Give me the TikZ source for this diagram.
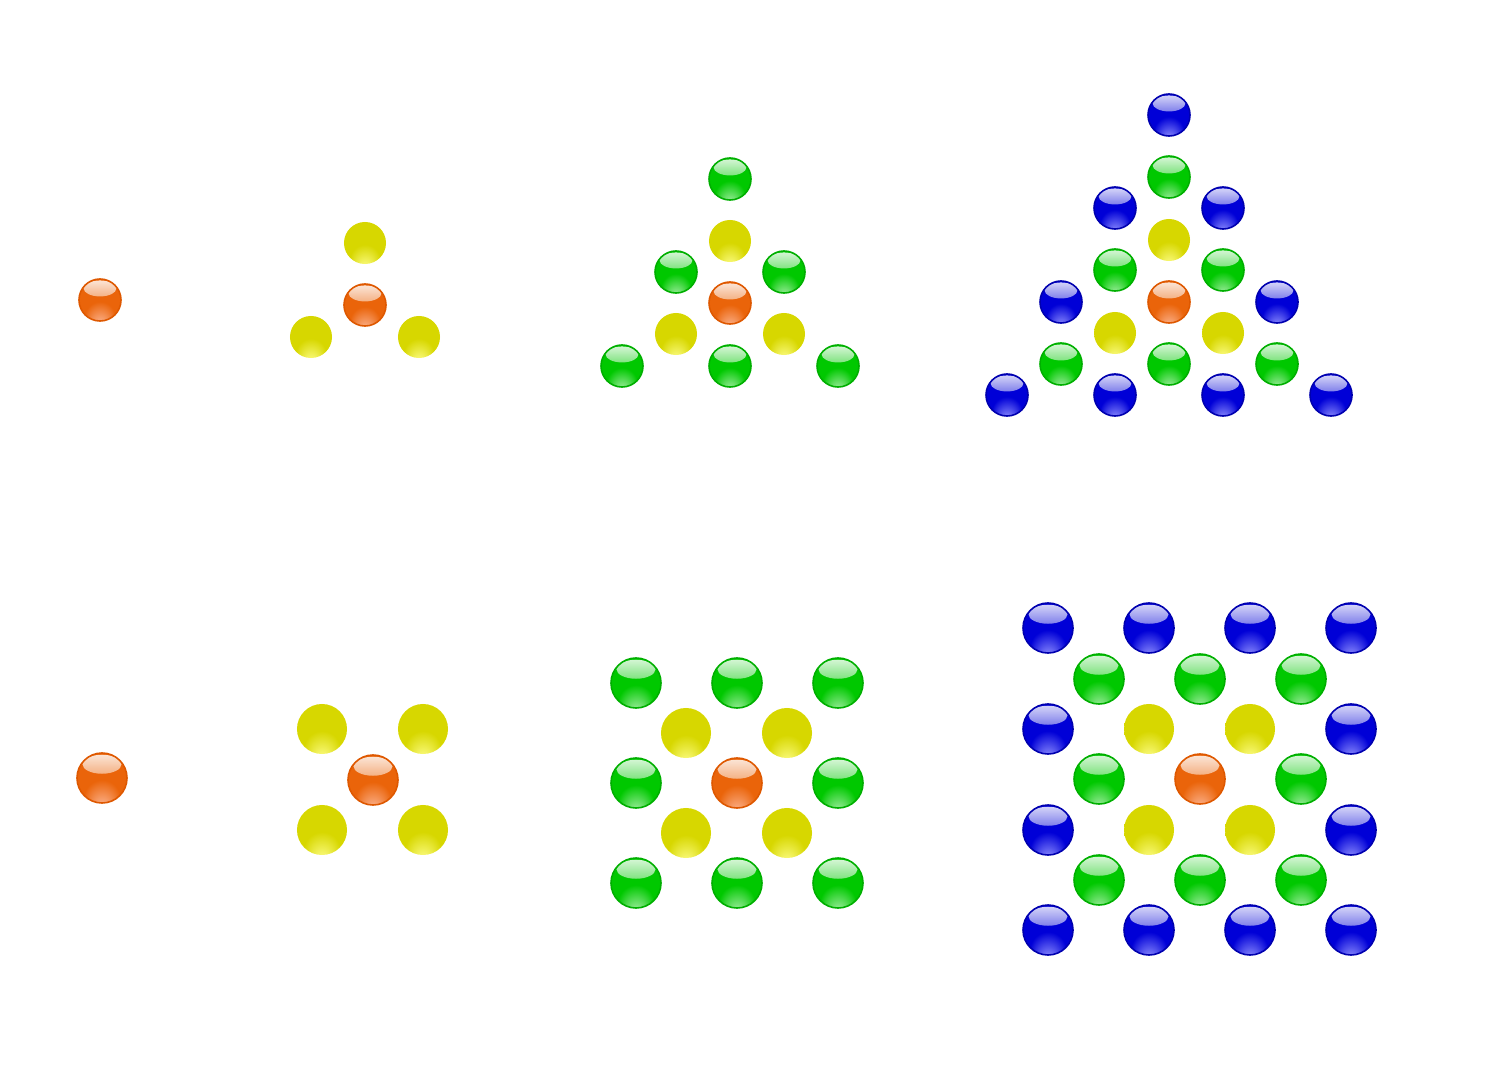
\documentclass[tikz,border=0pt]{standalone}
\usepackage{xcolor}
\usepackage{tikz}
\usetikzlibrary{positioning, calc, fadings}

\definecolor{blueface}{RGB}{0,0,215}
\definecolor{blueglow}{RGB}{145,145,255}
\definecolor{bluerim}{RGB}{0,0,175}
\definecolor{greenface}{RGB}{0,200,0}
\definecolor{greenglow}{RGB}{165,238,165}
\definecolor{greenrim}{RGB}{0,175,0}
\definecolor{yellowface}{RGB}{215,215,0}
\definecolor{yellowglow}{RGB}{252,252,130}
\definecolor{orangeface}{RGB}{234,100,10}
\definecolor{orangeglow}{RGB}{252,180,145}
\definecolor{orangerim}{RGB}{222,88,0}

% glow at the bottom of each ball
\pgfdeclareradialshading{blueshade}{\pgfpoint{0bp}{-31bp}}{color(0bp)=(blueglow); color(4bp)=(blueglow!85!blueface); color(18bp)=(blueface); color(50bp)=(blueface)}
\pgfdeclareradialshading{greenshade}{\pgfpoint{0bp}{-31bp}}{color(0bp)=(greenglow); color(4bp)=(greenglow!85!greenface); color(18bp)=(greenface); color(50bp)=(greenface)}
\pgfdeclareradialshading{yellowshade}{\pgfpoint{0bp}{-31bp}}{color(0bp)=(yellowglow); color(4bp)=(yellowglow!85!yellowface); color(18bp)=(yellowface); color(50bp)=(yellowface)}
\pgfdeclareradialshading{orangeshade}{\pgfpoint{0bp}{-31bp}}{color(0bp)=(orangeglow); color(4bp)=(orangeglow!85!orangeface); color(18bp)=(orangeface); color(50bp)=(orangeface)}
% highlight at the top
\tikzfading[name=glossfade, top color=transparent!5, middle color=transparent!35, bottom color=transparent!100]

\begin{document}
\begin{tikzpicture}[x=0.01cm, y=-0.01cm]
	\tikzstyle{ball}=[circle, inner sep=0pt, line width=0.45pt]
	\tikzstyle{gloss}=[path picture={\fill[white, fill opacity=0.9, path fading=glossfade]
		let \p1=(path picture bounding box.north east), \p2=(path picture bounding box.center), \n1={\x1-\x2} in
		(\x2,\y2+0.55*\n1) ellipse ({0.78*\n1} and {0.38*\n1});}]
	\tikzstyle{topball}=[ball, minimum size=0.42cm]
	\tikzstyle{lowball}=[ball, minimum size=0.5cm]
	\tikzstyle{blueball}=[draw=bluerim, shading=blueshade, gloss]
	\tikzstyle{greenball}=[draw=greenrim, shading=greenshade, gloss]
	\tikzstyle{yellowball}=[shading=yellowshade]
	\tikzstyle{orangeball}=[draw=orangerim, shading=orangeshade, gloss]
	\useasboundingbox (0,0) rectangle (1500,1076);
	% top row: triangles
	\node[topball, orangeball](a1) at (100,300) {};
	%
	\node[topball, yellowball](b1) at (365,243) {};
	\node[topball, orangeball](b2) at (365,305) {};
	\node[topball, yellowball](b3) at (311,337) {};
	\node[topball, yellowball](b4) at (419,337) {};
	%
	\node[topball, greenball](c1) at (730,179) {};
	\node[topball, yellowball](c2) at (730,241) {};
	\node[topball, greenball](c3) at (676,272) {};
	\node[topball, greenball](c4) at (784,272) {};
	\node[topball, orangeball](c5) at (730,303) {};
	\node[topball, yellowball](c6) at (676,334) {};
	\node[topball, yellowball](c7) at (784,334) {};
	\node[topball, greenball](c8) at (622,366) {};
	\node[topball, greenball](c9) at (730,366) {};
	\node[topball, greenball](c10) at (838,366) {};
	%
	\node[topball, blueball](d1) at (1169,115) {};
	\node[topball, greenball](d2) at (1169,177) {};
	\node[topball, blueball](d3) at (1115,208) {};
	\node[topball, blueball](d4) at (1223,208) {};
	\node[topball, yellowball](d5) at (1169,240) {};
	\node[topball, greenball](d6) at (1115,270) {};
	\node[topball, greenball](d7) at (1223,270) {};
	\node[topball, blueball](d8) at (1061,302) {};
	\node[topball, orangeball](d9) at (1169,302) {};
	\node[topball, blueball](d10) at (1277,302) {};
	\node[topball, yellowball](d11) at (1115,333) {};
	\node[topball, yellowball](d12) at (1223,333) {};
	\node[topball, greenball](d13) at (1061,364) {};
	\node[topball, greenball](d14) at (1169,364) {};
	\node[topball, greenball](d15) at (1277,364) {};
	\node[topball, blueball](d16) at (1007,395) {};
	\node[topball, blueball](d17) at (1115,395) {};
	\node[topball, blueball](d18) at (1223,395) {};
	\node[topball, blueball](d19) at (1331,395) {};
	% bottom row: squares
	\node[lowball, orangeball](e1) at (102,778) {};
	%
	\node[lowball, yellowball](f1) at (322,729) {};
	\node[lowball, yellowball](f2) at (423,729) {};
	\node[lowball, orangeball](f3) at (373,780) {};
	\node[lowball, yellowball](f4) at (322,830) {};
	\node[lowball, yellowball](f5) at (423,830) {};
	%
	\node[lowball, greenball](g1) at (636,683) {};
	\node[lowball, greenball](g2) at (737,683) {};
	\node[lowball, greenball](g3) at (838,683) {};
	\node[lowball, yellowball](g4) at (686,733) {};
	\node[lowball, yellowball](g5) at (787,733) {};
	\node[lowball, greenball](g6) at (636,783) {};
	\node[lowball, orangeball](g7) at (737,783) {};
	\node[lowball, greenball](g8) at (838,783) {};
	\node[lowball, yellowball](g9) at (686,833) {};
	\node[lowball, yellowball](g10) at (787,833) {};
	\node[lowball, greenball](g11) at (636,883) {};
	\node[lowball, greenball](g12) at (737,883) {};
	\node[lowball, greenball](g13) at (838,883) {};
	%
	\node[lowball, blueball](h1) at (1048,628) {};
	\node[lowball, blueball](h2) at (1149,628) {};
	\node[lowball, blueball](h3) at (1250,628) {};
	\node[lowball, blueball](h4) at (1351,628) {};
	\node[lowball, greenball](h5) at (1099,679) {};
	\node[lowball, greenball](h6) at (1200,679) {};
	\node[lowball, greenball](h7) at (1301,679) {};
	\node[lowball, blueball](h8) at (1048,729) {};
	\node[lowball, yellowball](h9) at (1149,729) {};
	\node[lowball, yellowball](h10) at (1250,729) {};
	\node[lowball, blueball](h11) at (1351,729) {};
	\node[lowball, greenball](h12) at (1099,779) {};
	\node[lowball, orangeball](h13) at (1200,779) {};
	\node[lowball, greenball](h14) at (1301,779) {};
	\node[lowball, blueball](h15) at (1048,830) {};
	\node[lowball, yellowball](h16) at (1149,830) {};
	\node[lowball, yellowball](h17) at (1250,830) {};
	\node[lowball, blueball](h18) at (1351,830) {};
	\node[lowball, greenball](h19) at (1099,880) {};
	\node[lowball, greenball](h20) at (1200,880) {};
	\node[lowball, greenball](h21) at (1301,880) {};
	\node[lowball, blueball](h22) at (1048,930) {};
	\node[lowball, blueball](h23) at (1149,930) {};
	\node[lowball, blueball](h24) at (1250,930) {};
	\node[lowball, blueball](h25) at (1351,930) {};
\end{tikzpicture}
\end{document}
